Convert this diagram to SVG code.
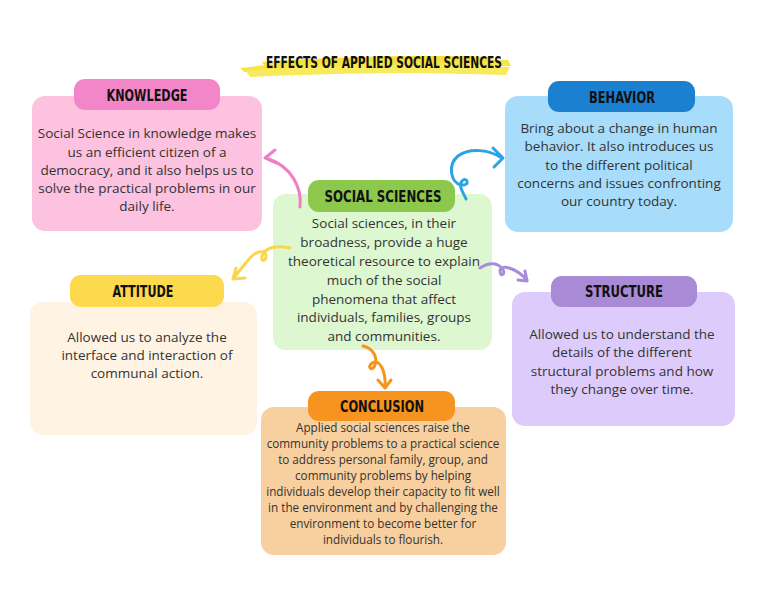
<svg xmlns="http://www.w3.org/2000/svg" width="768" height="594" viewBox="0 0 768 594">
<style>
.h{font-family:"DejaVu Sans","Liberation Sans",sans-serif;font-weight:bold;font-stretch:condensed;font-size:15px;fill:#111;text-anchor:middle}
.t{font-family:"Open Sans","Noto Sans",sans-serif;font-size:13.5px;fill:#333;text-anchor:middle}
.c{font-size:11.7px}
.a{fill:none;stroke-width:3;stroke-linecap:round;stroke-linejoin:round}
</style>
<rect width="768" height="594" fill="#fff"/>
<g id="title">
<path d="M240,68 C300,60 420,57 508,60 L511,66 C430,64 330,66 244,72 Z" fill="#f7e545"/>
<path d="M246,71 C320,64 430,63 510,67 L506,75 C420,72 330,73 250,77 Z" fill="#f9e95c"/>
<path d="M262,62 C340,56 430,55 490,57 L492,61 C420,60 340,61 264,65 Z" fill="#f5e038"/>
<text class="h" x="384" y="68" textLength="236" lengthAdjust="spacingAndGlyphs">EFFECTS OF APPLIED SOCIAL SCIENCES</text>
</g>
<g id="knowledge">
<rect x="32" y="96" width="230" height="135" rx="13" fill="#fcc2df"/>
<rect x="74" y="79" width="146" height="31" rx="11" fill="#f386c8"/>
<text class="h" x="147" y="101" textLength="81" lengthAdjust="spacingAndGlyphs">KNOWLEDGE</text>
<text class="t" x="147" y="138">Social Science in knowledge makes</text>
<text class="t" x="147" y="157">us an efficient citizen of a</text>
<text class="t" x="147" y="175">democracy, and it also helps us to</text>
<text class="t" x="147" y="193">solve the practical problems in our</text>
<text class="t" x="147" y="211">daily life.</text>
</g>
<g id="behavior">
<rect x="505" y="96" width="228" height="136" rx="13" fill="#a7dcfb"/>
<rect x="548" y="81" width="147" height="31" rx="11" fill="#1b80d0"/>
<text class="h" x="622" y="103" textLength="66" lengthAdjust="spacingAndGlyphs">BEHAVIOR</text>
<text class="t" x="619" y="133">Bring about a change in human</text>
<text class="t" x="619" y="151">behavior. It also introduces us</text>
<text class="t" x="619" y="170">to the different political</text>
<text class="t" x="619" y="188">concerns and issues confronting</text>
<text class="t" x="619" y="206">our country today.</text>
</g>
<g id="social-sciences">
<rect x="273" y="194" width="219" height="156" rx="13" fill="#ddf7d0"/>
<rect x="308" y="180" width="147" height="32" rx="11" fill="#8cc84b"/>
<text class="h" x="383" y="202" textLength="117" lengthAdjust="spacingAndGlyphs">SOCIAL SCIENCES</text>
<text class="t" x="384" y="228">Social sciences, in their</text>
<text class="t" x="384" y="247">broadness, provide a huge</text>
<text class="t" x="384" y="266">theoretical resource to explain</text>
<text class="t" x="384" y="285">much of the social</text>
<text class="t" x="384" y="304">phenomena that affect</text>
<text class="t" x="384" y="322">individuals, families, groups</text>
<text class="t" x="384" y="341">and communities.</text>
</g>
<g id="attitude">
<rect x="30" y="302" width="227" height="133" rx="13" fill="#fff4e3"/>
<rect x="70" y="275" width="154" height="32" rx="11" fill="#fdd94e"/>
<text class="h" x="143" y="297" textLength="61" lengthAdjust="spacingAndGlyphs">ATTITUDE</text>
<text class="t" x="147" y="342">Allowed us to analyze the</text>
<text class="t" x="147" y="360">interface and interaction of</text>
<text class="t" x="147" y="378">communal action.</text>
</g>
<g id="structure">
<rect x="512" y="292" width="223" height="134" rx="13" fill="#ddccfb"/>
<rect x="551" y="276" width="146" height="31" rx="11" fill="#a88ad6"/>
<text class="h" x="624" y="297" textLength="78" lengthAdjust="spacingAndGlyphs">STRUCTURE</text>
<text class="t" x="622" y="339">Allowed us to understand the</text>
<text class="t" x="622" y="357">details of the different</text>
<text class="t" x="622" y="376">structural problems and how</text>
<text class="t" x="622" y="394">they change over time.</text>
</g>
<g id="conclusion">
<rect x="261" y="407" width="245" height="148" rx="13" fill="#f8cf9e"/>
<rect x="308" y="391" width="147" height="30" rx="11" fill="#f7931f"/>
<text class="h" x="382" y="412" textLength="84" lengthAdjust="spacingAndGlyphs">CONCLUSION</text>
<text class="t c" x="383" y="432">Applied social sciences raise the</text>
<text class="t c" x="383" y="448">community problems to a practical science</text>
<text class="t c" x="383" y="464">to address personal family, group, and</text>
<text class="t c" x="383" y="480">community problems by helping</text>
<text class="t c" x="383" y="496">individuals develop their capacity to fit well</text>
<text class="t c" x="383" y="512">in the environment and by challenging the</text>
<text class="t c" x="383" y="528">environment to become better for</text>
<text class="t c" x="383" y="544">individuals to flourish.</text>
</g>
<g id="connectors">
<path class="a" stroke="#f27cc6" d="M300,207 C302,188 292,166 266,158 M275,150 L265,158 L276,163"/>
<path class="a" stroke="#2aa4e4" d="M466,199 C463,192 458,186 462,181 C467,176 471,186 461,185 C451,183 447,165 458,156 C470,147 490,150 502,158 M493,148 L503,158 L494,167"/>
<path class="a" stroke="#fbd64a" d="M290,248 C278,245 267,247 263,254 C259,261 266,263 266,256 C266,249 256,251 250,258 C244,265 238,272 234,278 M236,268 L233,279 L245,278"/>
<path class="a" stroke="#a98bdb" d="M480,268 C488,263 496,262 502,268 C507,274 500,278 500,271 C500,264 515,267 527,280 M525,271 L527,281 L518,280"/>
<path class="a" stroke="#f7941d" d="M363,346 C372,348 378,356 375,365 C373,372 366,368 372,363 C380,358 386,372 385,387 M378,380 L385,388 L391,380"/>
</g>
</svg>
